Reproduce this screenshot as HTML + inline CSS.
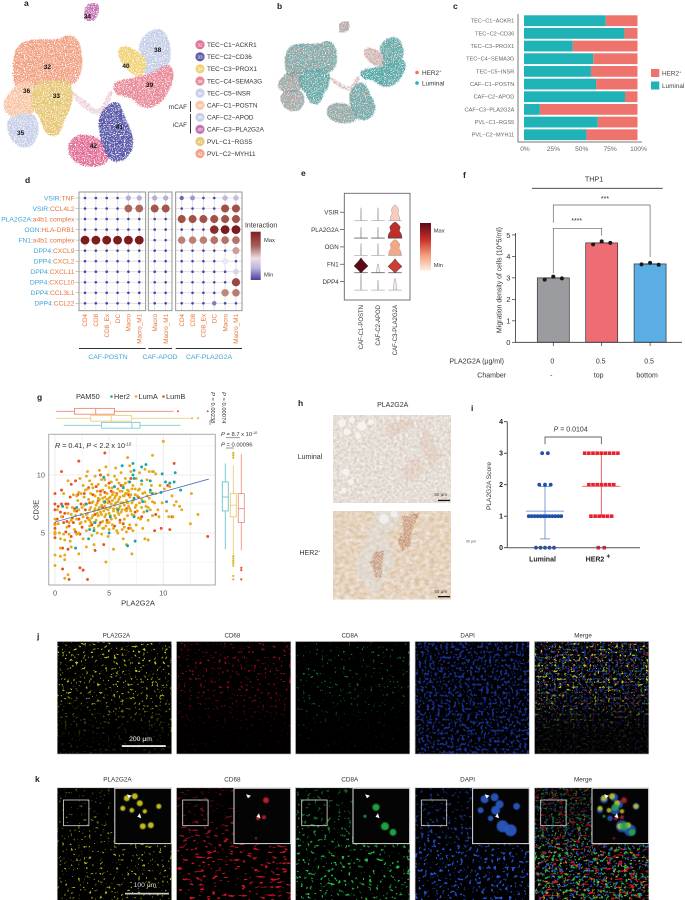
<!DOCTYPE html>
<html lang="en">
<head>
<meta charset="utf-8">
<title>PLA2G2A multi-panel figure</title>
<style>
html,body{margin:0;padding:0;background:#fff;width:685px;height:900px;overflow:hidden}
svg{display:block;font-family:"Liberation Sans",sans-serif}
.pl{font-size:8.5px;font-weight:bold;fill:#222}
</style>
</head>
<body>
<svg id="fig" xmlns="http://www.w3.org/2000/svg" width="685" height="900" viewBox="0 0 685 900">
<defs>
<filter id="speck" x="-8%" y="-8%" width="116%" height="116%" color-interpolation-filters="sRGB">
<feTurbulence type="fractalNoise" baseFrequency="0.9" numOctaves="1" seed="4" result="n"/>
<feDisplacementMap in="SourceGraphic" in2="n" scale="5" xChannelSelector="R" yChannelSelector="G" result="d"/>
<feColorMatrix in="n" type="matrix" values="0 0 0 0 0 0 0 0 0 0 0 0 0 0 0 10 0 0 0 -3.6" result="m"/>
<feComposite in="d" in2="m" operator="in"/>
</filter>
<filter id="speckB" x="-8%" y="-8%" width="116%" height="116%" color-interpolation-filters="sRGB">
<feTurbulence type="fractalNoise" baseFrequency="1.0" numOctaves="1" seed="9" result="n"/>
<feDisplacementMap in="SourceGraphic" in2="n" scale="5" xChannelSelector="R" yChannelSelector="G" result="d"/>
<feColorMatrix in="n" type="matrix" values="0 0 0 0 0 0 0 0 0 0 0 0 0 0 0 10 0 0 0 -4.9" result="m"/>
<feComposite in="d" in2="m" operator="in"/>
</filter>
<filter id="fYellow" x="0" y="0" width="100%" height="100%" color-interpolation-filters="sRGB"><feTurbulence type="fractalNoise" baseFrequency="0.37" numOctaves="2" seed="11"/><feColorMatrix type="matrix" values="0 0 0 0 .76 0 0 0 0 .74 0 0 0 0 .08 14 0 0 0 -9"/></filter>
<filter id="fRed" x="0" y="0" width="100%" height="100%" color-interpolation-filters="sRGB"><feTurbulence type="fractalNoise" baseFrequency="0.37" numOctaves="2" seed="23"/><feColorMatrix type="matrix" values="0 0 0 0 .6 0 0 0 0 .04 0 0 0 0 .1 14 0 0 0 -9.3"/></filter>
<filter id="fGreen" x="0" y="0" width="100%" height="100%" color-interpolation-filters="sRGB"><feTurbulence type="fractalNoise" baseFrequency="0.37" numOctaves="2" seed="31"/><feColorMatrix type="matrix" values="0 0 0 0 .06 0 0 0 0 .55 0 0 0 0 .18 14 0 0 0 -9.6"/></filter>
<filter id="fBlue" x="0" y="0" width="100%" height="100%" color-interpolation-filters="sRGB"><feTurbulence type="fractalNoise" baseFrequency="0.37" numOctaves="2" seed="41"/><feColorMatrix type="matrix" values="0 0 0 0 .09 0 0 0 0 .18 0 0 0 0 .55 9 0 0 0 -4.8"/></filter>
<filter id="fYellowK" x="0" y="0" width="100%" height="100%" color-interpolation-filters="sRGB"><feTurbulence type="fractalNoise" baseFrequency="0.37" numOctaves="2" seed="13"/><feColorMatrix type="matrix" values="0 0 0 0 .72 0 0 0 0 .7 0 0 0 0 .08 14 0 0 0 -9.3"/></filter>
<filter id="fRedK" x="0" y="0" width="100%" height="100%" color-interpolation-filters="sRGB"><feTurbulence type="fractalNoise" baseFrequency="0.17 0.37" numOctaves="2" seed="5"/><feColorMatrix type="matrix" values="0 0 0 0 .8 0 0 0 0 .07 0 0 0 0 .13 14 0 0 0 -8.8"/></filter>
<filter id="fGreenK" x="0" y="0" width="100%" height="100%" color-interpolation-filters="sRGB"><feTurbulence type="fractalNoise" baseFrequency="0.29" numOctaves="2" seed="15"/><feColorMatrix type="matrix" values="0 0 0 0 .1 0 0 0 0 .72 0 0 0 0 .25 14 0 0 0 -8.9"/></filter>
<filter id="fBlueK" x="0" y="0" width="100%" height="100%" color-interpolation-filters="sRGB"><feTurbulence type="fractalNoise" baseFrequency="0.33" numOctaves="2" seed="45"/><feColorMatrix type="matrix" values="0 0 0 0 .13 0 0 0 0 .32 0 0 0 0 .82 12 0 0 0 -7.2"/></filter>
<filter id="tissueA" x="0" y="0" width="100%" height="100%" color-interpolation-filters="sRGB"><feTurbulence type="fractalNoise" baseFrequency="0.35" numOctaves="3" seed="8"/><feColorMatrix type="matrix" values=".2 0 0 0 .8 .26 0 0 0 .74 .3 0 0 0 .69 0 0 0 0 1"/></filter>
<filter id="tissueB" x="0" y="0" width="100%" height="100%" color-interpolation-filters="sRGB"><feTurbulence type="fractalNoise" baseFrequency="0.2 0.28" numOctaves="3" seed="19"/><feColorMatrix type="matrix" values=".14 0 0 0 .83 .26 0 0 0 .7 .42 0 0 0 .54 0 0 0 0 1"/></filter>
<filter id="soft"><feGaussianBlur stdDeviation="0.6"/></filter>
<linearGradient id="interactionGrad" x1="0" y1="0" x2="0" y2="1"><stop offset="0" stop-color="#7d1f22"/><stop offset=".3" stop-color="#a9605a"/><stop offset=".55" stop-color="#eadfe6"/><stop offset=".75" stop-color="#bdb6df"/><stop offset="1" stop-color="#4a409b"/></linearGradient>
<linearGradient id="violinGrad" x1="0" y1="0" x2="0" y2="1"><stop offset="0" stop-color="#5c0a18"/><stop offset=".35" stop-color="#c8302a"/><stop offset=".7" stop-color="#f4a582"/><stop offset="1" stop-color="#fdeee8"/></linearGradient>
<linearGradient id="fadeDown" x1="0" y1="0" x2="0" y2="1"><stop offset=".4" stop-color="#000" stop-opacity="0"/><stop offset=".8" stop-color="#000" stop-opacity=".8"/></linearGradient>
<linearGradient id="fadeUp" x1="0" y1="0" x2="0" y2="1"><stop offset=".2" stop-color="#000" stop-opacity=".5"/><stop offset=".6" stop-color="#000" stop-opacity="0"/></linearGradient>
</defs>

<text class="pl" x="24" y="6">a</text>
<text class="pl" x="277" y="9">b</text>
<text class="pl" x="453" y="9">c</text>
<text class="pl" x="25" y="183">d</text>
<text class="pl" x="301" y="176">e</text>
<text class="pl" x="463" y="178">f</text>
<text class="pl" x="37" y="400">g</text>
<text class="pl" x="298" y="406">h</text>
<text class="pl" x="471" y="411">i</text>
<text class="pl" x="37" y="639">j</text>
<text class="pl" x="35" y="782">k</text>

<g id="panelA"></g>
<g id="panelB"></g>
<g id="panelC"></g>
<g id="panelD"></g>
<g id="panelE"></g>
<g id="panelF"></g>
<g id="panelG"></g>

<g id="panelH">
<text x="392.7" y="407" font-size="7" fill="#333" text-anchor="middle">PLA2G2A</text>
<text x="310" y="459" font-size="7" fill="#333" text-anchor="middle">Luminal</text>
<text x="310" y="555" font-size="7" fill="#333" text-anchor="middle">HER2<tspan font-size="4" dy="-2.5">+</tspan></text>
<g>
<rect x="333" y="415" width="117.7" height="87.7" filter="url(#tissueA)"/>
<g fill="#f6f2ee">
<circle cx="342" cy="423" r="4"/><circle cx="352" cy="420" r="3"/><circle cx="362" cy="426" r="4.5"/><circle cx="371" cy="422" r="3"/><circle cx="347" cy="432" r="3.5"/><circle cx="358" cy="436" r="3"/><circle cx="346" cy="472" r="3.5"/><circle cx="351" cy="482" r="3"/><circle cx="344" cy="490" r="2.6"/>
</g>
<path d="M425 425 L440 455 L432 470 L420 445Z M400 470 L418 455 L425 470 L410 482Z M385 425 L415 418 L410 428 L390 438Z" fill="#ddb9a4" opacity=".3"/>
</g>
<text x="440.7" y="496" font-size="4.5" fill="#333" text-anchor="middle">50 μm</text>
<rect x="438" y="499.8" width="12" height="1.3" fill="#111"/>
<g>
<rect x="333" y="511" width="117.7" height="88.3" filter="url(#tissueB)"/>
<path d="M375 512 L400 511 L398 525 L385 535 L395 560 L375 599 L355 570 L368 535Z" fill="#dde3e6" opacity=".4"/>
<circle cx="384" cy="519" r="5" fill="#eef0f0"/><circle cx="394" cy="514" r="3.5" fill="#eef0f0"/>
<path d="M403 516 L420 513 L413 528 L411 546 L403 551 L398 540 L404 530Z" fill="#a9542c" opacity=".75" filter="url(#speckB)"/>
<path d="M375 552 L385 550 L383 565 L382 578 L376 578 L371 562Z" fill="#a9542c" opacity=".75" filter="url(#speckB)"/>
</g>
<text x="440.7" y="593" font-size="4.5" fill="#333" text-anchor="middle">50 μm</text>
<rect x="438" y="596" width="12" height="1.3" fill="#111"/>
<text x="471" y="542.5" font-size="3.6" fill="#555" text-anchor="middle">50 μm</text>
</g>

<g id="panelI"></g>
<g id="panelJ"></g>
<g id="panelK"></g>
</svg>

<script>
/* ---------- shared helpers ---------- */
var NS='http://www.w3.org/2000/svg';
function mk(tag,attrs,parent,txt){
  var e=document.createElementNS(NS,tag);
  for(var k in attrs){e.setAttribute(k,attrs[k]);}
  if(txt!==undefined){e.textContent=txt;}
  parent.appendChild(e);
  return e;
}
function lerpColor(stops,t){
  t=Math.max(0,Math.min(1,t));
  for(var i=1;i<stops.length;i++){
    if(t<=stops[i][0]){
      var a=stops[i-1],b=stops[i],f=(t-a[0])/(b[0]-a[0]);
      var c=[0,1,2].map(function(j){return Math.round(a[1][j]+(b[1][j]-a[1][j])*f);});
      return 'rgb('+c.join(',')+')';
    }
  }
  var l=stops[stops.length-1][1];
  return 'rgb('+l.join(',')+')';
}
function smoothPath(pts,fx,fy){
  var n=pts.length,d='';
  for(var i=0;i<n;i++){
    var p=pts[i],q=pts[(i+1)%n];
    var mx=(fx(p[0])+fx(q[0]))/2,my=(fy(p[1])+fy(q[1]))/2;
    if(i===0){
      var z=pts[n-1];
      d+='M'+((fx(z[0])+fx(p[0]))/2)+' '+((fy(z[1])+fy(p[1]))/2);
    }
    d+=' Q'+fx(p[0])+' '+fy(p[1])+' '+mx+' '+my;
  }
  return d+'Z';
}

/* ---------- a / b UMAP data (outlines in UMAP units) ---------- */
var cluster34Outline=[[262,20],[280,12],[295,20],[290,45],[270,62],[255,50]];
var cluster32Outline=[[50,140],[100,122],[180,125],[200,110],[235,120],[245,205],[220,255],[160,250],[100,245],[62,285],[42,230]];
var cluster36Outline=[[12,312],[35,280],[60,250],[105,250],[108,330],[70,345],[30,345]];
var cluster33Outline=[[100,255],[160,245],[215,250],[210,320],[190,350],[175,405],[140,400],[125,345],[100,325]];
var cluster35Outline=[[25,355],[100,340],[115,395],[90,440],[50,432],[30,400]];
var cluster38Outline=[[415,135],[465,85],[500,105],[512,185],[470,215],[430,222],[440,180]];
var cluster40Outline=[[360,140],[400,150],[440,185],[420,232],[385,205],[362,175]];
var cluster39Outline=[[342,250],[400,240],[460,225],[510,190],[518,240],[480,310],[430,322],[395,285],[352,282]];
var cluster41Outline=[[300,345],[350,300],[368,350],[402,425],[375,478],[330,480],[305,415]];
var cluster42Outline=[[205,435],[240,405],[300,420],[330,478],[285,498],[225,485]];
var bridgeOutline=[[212,270],[250,295],[300,340],[330,265],[345,285],[300,350],[260,330],[225,300]];
var clusterOutlines=[cluster32Outline,cluster36Outline,cluster33Outline,cluster35Outline,cluster38Outline,cluster40Outline,cluster39Outline,cluster42Outline,cluster41Outline,cluster34Outline,bridgeOutline];
var clusterColors=['#f2a386','#f9c6a5','#e7c877','#c7d0e8','#c6cfe8','#f1d274','#e98b9a','#e2729a','#5d5cab','#c476b4','#dfa8b8'];
var clusterIds=['32','36','33','35','38','40','39','42','41','34','bridge'];
var her2Share=[.45,.6,.35,.6,.35,.95,.3,.5,.4,.7,.45];
var clusterLabels=['34','32','36','33','35','38','40','39','41','42'];
var clusterLabelX=[262,142,80,169,62,473,378,449,358,280];
var clusterLabelY=[48,200,271,286,398,149,197,254,380,437];
function ax(u){return u/3;}
function ay(v){return v/3;}
function bx(u){return 275.5+u*0.25;}
function by(v){return 19.5+v*0.207;}

var pA=document.getElementById('panelA');
clusterOutlines.forEach(function(o,i){
  var isBridge=clusterIds[i]==='bridge';
  var p=mk('path',{d:smoothPath(o,ax,ay),fill:clusterColors[i],stroke:clusterColors[i],'stroke-width':isBridge?0:4,'stroke-linejoin':'round',filter:isBridge?'url(#speckB)':'url(#speck)'},pA);
  
  
});
clusterLabels.forEach(function(l,i){
  var t=mk('text',{x:ax(clusterLabelX[i]),y:ay(clusterLabelY[i])+2.5,'font-size':6.5,'font-weight':'bold',fill:'#111','text-anchor':'middle'},pA,l);
  
  
});
var legendNames=['TEC−C1−ACKR1','TEC−C2−CD36','TEC−C3−PROX1','TEC−C4−SEMA3G','TEC−C5−INSR','CAF−C1−POSTN','CAF−C2−APOD','CAF−C3−PLA2G2A','PVL−C1−RGS5','PVL−C2−MYH11'];
var legendIds=['32','33','34','35','36','38','39','40','41','42'];
var legendColors=['#e2729a','#5d5cab','#f1d274','#e98b9a','#c7d0e8','#f9c6a5','#c6cfe8','#c476b4','#e7c877','#f2a386'];
legendNames.forEach(function(n,i){
  var y=44.7+i*12.1;
  var g=mk('g',{},pA);
  
  
  mk('circle',{cx:200,cy:y,r:4.6,fill:legendColors[i]},g);
  mk('text',{x:200,y:y+1.8,'font-size':4.8,fill:'#fff','text-anchor':'middle'},g,legendIds[i]);
  mk('text',{x:207,y:y+2.3,'font-size':6.4,fill:'#333'},g,n);
});
var mc=mk('text',{x:187,y:109,'font-size':6.4,fill:'#333','text-anchor':'end'},pA,'mCAF');


var ic=mk('text',{x:187,y:127,'font-size':6.4,fill:'#333','text-anchor':'end'},pA,'iCAF');


var mb=mk('line',{x1:190.5,x2:190.5,y1:101,y2:112,stroke:'#222','stroke-width':.9},pA);


var ib=mk('line',{x1:190.5,x2:190.5,y1:114,y2:133.5,stroke:'#222','stroke-width':.9},pA);



var pB=document.getElementById('panelB');
clusterOutlines.forEach(function(o,i){
  var sw=clusterIds[i]==='bridge'?0:3;
  var p=mk('path',{d:smoothPath(o,bx,by),fill:'#2bb6b8',stroke:'#2bb6b8','stroke-width':sw,filter:clusterIds[i]==='bridge'?'url(#speckB)':'url(#speck)',opacity:Math.min(1,1.25-her2Share[i])},pB);
  
  
  var q=mk('path',{d:smoothPath(o,bx,by),fill:'#ef7f78',stroke:'#ef7f78','stroke-width':sw,filter:'url(#speckB)',opacity:Math.min(1,her2Share[i]*1.8)},pB);
  
  
});
var bLegend=[['HER2','#ef7068',75,'+'],['Luminal','#1fb3b5',85.5,'']];
bLegend.forEach(function(e){
  var g=mk('g',{},pB);
  
  
  mk('circle',{cx:417,cy:e[2]-2.5,r:1.8,fill:e[1]},g);
  var t=mk('text',{x:422,y:e[2],'font-size':6.4,fill:'#333'},g,e[0]);
  if(e[3]){mk('tspan',{'font-size':3.8,dy:-2.4},t,e[3]);}
});

/* ---------- c stacked bars ---------- */
var cCategories=['TEC−C1−ACKR1','TEC−C2−CD36','TEC−C3−PROX1','TEC−C4−SEMA3G','TEC−C5−INSR','CAF−C1−POSTN','CAF−C2−APOD','CAF−C3−PLA2G2A','PVL−C1−RGS5','PVL−C2−MYH11'];
var cLuminalShare=[72,88.5,43,61,59,63.5,89,14,65,55];
var cTicks=[0,25,50,75,100];
function cX(v){return 524+v*1.135;}
function cY(i){return 20.7+i*12.67;}
var pC=document.getElementById('panelC');
cCategories.forEach(function(c,i){
  var y=cY(i);
  var lab=mk('text',{x:514.3,y:y+1.9,'font-size':5.6,fill:'#666','text-anchor':'end'},pC,c);
  
  
  var a=mk('rect',{x:cX(0),y:y-5.4,width:cX(cLuminalShare[i])-cX(0),height:10.8,fill:'#1fb3b8'},pC);
  
  
  var b=mk('rect',{x:cX(cLuminalShare[i]),y:y-5.4,width:cX(100)-cX(cLuminalShare[i]),height:10.8,fill:'#ee736c'},pC);
  
  
});
var cAxis=mk('path',{d:'M518 14V142H642',fill:'none',stroke:'#777','stroke-width':1},pC);


cTicks.forEach(function(t){
  var l=mk('text',{x:cX(t)+1,y:151,'font-size':6.6,fill:'#666','text-anchor':'middle'},pC,t+'%');
  
  
});
var cLegend=[['HER2','#ee736c',69,'+'],['Luminal','#1fb3b8',81.5,'']];
cLegend.forEach(function(e){
  var g=mk('g',{},pC);
  
  
  mk('rect',{x:651,y:e[2],width:8.3,height:8,fill:e[1]},g);
  var t=mk('text',{x:662,y:e[2]+6.7,'font-size':6.4,fill:'#444'},g,e[0]);
  if(e[3]){mk('tspan',{'font-size':3.8,dy:-2.4},t,e[3]);}
});

/* ---------- d interaction dot plot ---------- */
var dLigands=['VSIR:','VSIR:','PLA2G2A:','OGN:','FN1:','DPP4:','DPP4:','DPP4:','DPP4:','DPP4:','DPP4:'];
var dReceptors=['TNF','CCL4L2','a4b1 complex','HLA-DRB1','a4b1 complex','CXCL9','CXCL2','CXCL11','CXCL10','CCL3L1','CCL22'];
var dColsPostn=['CD4','CD8','CD8_Ex','DC','Macro','Macro_M1'];
var dColsApod=['Macro','Macro_M1'];
var dColsPla=['CD4','CD8','CD8_Ex','DC','Macro','Macro_M1'];
var dValuesPostn=[[0,0,0,0,.28,.28],[0,0,0,0,.8,.8],[0,0,0,0,0,0],[0,0,0,0,0,0],[1,1,1,1,1,1],[0,0,0,0,0,0],[0,0,0,0,0,0],[0,0,0,0,0,0],[0,0,0,0,0,0],[0,0,0,0,0,0],[0,0,0,0,0,0]];
var dValuesApod=[[.28,.28],[.84,.84],[0,0],[0,0],[0,0],[0,0],[0,0],[0,0],[0,0],[0,0],[0,0]];
var dValuesPla=[[.1,.22,0,0,.3,.32],[0,0,0,0,.85,.85],[.85,.85,.85,.85,.85,.85],[0,0,0,.95,1,1],[.74,.74,.74,.77,.77,.77],[0,0,0,0,0,.66],[0,0,0,0,.47,0],[0,0,0,0,0,.4],[0,0,0,0,0,.88],[0,0,0,0,.72,.75],[0,0,0,.15,0,0]];
var dColorStops=[[0,[72,64,160]],[.3,[190,182,224]],[.47,[236,230,240]],[.65,[205,165,155]],[.85,[160,82,72]],[1,[125,28,32]]];
var dFacets=[{cols:dColsPostn,vals:dValuesPostn,l:79,r:145.7,xs:85,dx:10.85,name:'caf-postn'},{cols:dColsApod,vals:dValuesApod,l:148.3,r:172,xs:154.7,dx:11,name:'caf-apod'},{cols:dColsPla,vals:dValuesPla,l:175.7,r:242,xs:181.7,dx:10.85,name:'caf-pla2g2a'}];
function dY(i){return 198+i*10.53;}
function dR(v){return v===0?1.3:1.9+v*2.5;}
var pD=document.getElementById('panelD');
dLigands.forEach(function(l,i){
  var t=mk('text',{x:74.5,y:dY(i)+2.3,'font-size':6.7,'text-anchor':'end',fill:'#3aa5d8'},pD);
  
  
  mk('tspan',{},t,l);
  mk('tspan',{fill:'#e8733a'},t,dReceptors[i]);
  var tk=mk('line',{x1:75.5,x2:79,y1:dY(i),y2:dY(i),stroke:'#999','stroke-width':.5},pD);
  
  
});
dFacets.forEach(function(f){
  var g=mk('g',{},pD);
  
  
  dLigands.forEach(function(l,i){
    mk('line',{x1:f.l,x2:f.r,y1:dY(i),y2:dY(i),stroke:'#dcdcdc','stroke-width':.8},g);
  });
  f.cols.forEach(function(c,j){
    var x=f.xs+j*f.dx;
    mk('line',{x1:x,x2:x,y1:192,y2:310.7,stroke:'#dcdcdc','stroke-width':.8},g);
    var t=mk('text',{transform:'translate('+(x+2.2)+',314) rotate(-90)','font-size':6.3,fill:'#e8733a','text-anchor':'end'},g,c);
    
    
  });
  f.vals.forEach(function(row,i){
    row.forEach(function(v,j){
      var d=mk('circle',{cx:f.xs+j*f.dx,cy:dY(i),r:dR(v),fill:v===0?'#4a45a8':lerpColor(dColorStops,v)},g);
      
      
    });
  });
  mk('rect',{x:f.l,y:192,width:f.r-f.l,height:118.7,fill:'none',stroke:'#8a8a8a','stroke-width':.9},g);
  var b=mk('line',{x1:f.l,x2:f.r,y1:348.5,y2:348.5,stroke:'#333','stroke-width':1},g);
  
  
});
var dGroupLabels=[['CAF-POSTN',108],['CAF-APOD',160],['CAF-PLA2G2A',209]];
dGroupLabels.forEach(function(e){
  var t=mk('text',{x:e[1],y:359,'font-size':6.8,fill:'#3aa5d8','text-anchor':'middle'},pD,e[0]);
  
  
});
var dt=mk('text',{x:245,y:227.5,'font-size':6.9,fill:'#333'},pD,'Interaction');


var db=mk('rect',{x:250.7,y:231.7,width:10,height:48.3,fill:'url(#interactionGrad)'},pD);


var dMax=mk('text',{x:264,y:242,'font-size':5.8,fill:'#333'},pD,'Max');


var dMin=mk('text',{x:264,y:276.5,'font-size':5.8,fill:'#333'},pD,'Min');



/* ---------- e stacked violins ---------- */
var eGenes=['VSIR','PLA2G2A','OGN','FN1','DPP4'];
var eClusters=['CAF-C1-POSTN','CAF-C2-APOD','CAF-C3-PLA2G2A'];
var eHeights=[[13,13,16],[11,11,16],[12,12,16],[15,9,14],[16,10,12]];
var eWidths=[[.4,.4,4.8],[.4,.4,7],[.4,.4,6.5],[7,1.6,7],[.4,.4,1.8]];
var eLevels=[[.02,.02,.16],[.02,.02,.72],[.02,.02,.34],[1,.02,.66],[.02,.02,.03]];
var eProfileSpike=[[0,1],[.12,.9],[.5,.65],[.85,.4],[1,0]];
var eProfileDiamond=[[0,.06],[.12,.25],[.45,1],[.8,.3],[1,0]];
var eProfileBulb=[[0,1],[.25,.9],[.45,.6],[.7,.75],[.9,.35],[1,0]];
var eStops=[[0,[253,238,232]],[.35,[244,165,130]],[.7,[200,48,42]],[1,[92,10,24]]];
function eRowY(i){return 220.7+i*17.35;}
function eColX(j){return 361+j*17;}
var pE=document.getElementById('panelE');
var eBox=mk('rect',{x:344.3,y:193.3,width:65.7,height:106.7,fill:'#fff',stroke:'#666','stroke-width':.9},pE);


eGenes.forEach(function(g,i){
  var y=eRowY(i)-8.5;
  var t=mk('text',{x:338.7,y:y+2.2,'font-size':6.2,fill:'#333','text-anchor':'end'},pE,g);
  
  
  var tk=mk('line',{x1:340,x2:344.3,y1:y,y2:y,stroke:'#444','stroke-width':.7},pE);
  
  
  eClusters.forEach(function(c,j){
    var h=eHeights[i][j],w=eWidths[i][j],lv=eLevels[i][j],base=eRowY(i),cx=eColX(j);
    var prof=(i===3&&j!==1)?eProfileDiamond:(w>2?eProfileBulb:eProfileSpike);
    var left='',right='';
    prof.forEach(function(p,k){
      var yy=base-p[0]*h;
      left+=(k===0?'M':'L')+(cx-p[1]*w)+' '+yy+' ';
      right=' L'+(cx+p[1]*w)+' '+yy+right;
    });
    var gg=mk('g',{},pE);
    
    
    mk('path',{d:left+right+'Z',fill:lerpColor(eStops,lv),stroke:lv>.5?'#333':'#999','stroke-width':.5,'stroke-linejoin':'round'},gg);
    mk('line',{x1:cx-6.8,x2:cx+6.8,y1:base,y2:base,stroke:i===1||i===3?'#444':'#aaa','stroke-width':.7},gg);
  });
});
eClusters.forEach(function(c,j){
  var t=mk('text',{transform:'translate('+(eColX(j)+2.2)+',305) rotate(-90)','font-size':6,fill:'#333','text-anchor':'end'},pE,c);
  
  
});
var eBar=mk('rect',{x:420,y:223,width:11,height:47.7,fill:'url(#violinGrad)'},pE);


var eMax=mk('text',{x:433.7,y:232.5,'font-size':5.8,fill:'#333'},pE,'Max');


var eMin=mk('text',{x:433.7,y:267,'font-size':5.8,fill:'#333'},pE,'Min');



/* ---------- f migration bars ---------- */
var fValues=[3.0,4.63,3.65];
var fReplicates=[[2.92,3.06,2.98],[4.56,4.7,4.63],[3.63,3.7,3.61]];
var fColors=['#9b9ca0','#ee6d74','#5aaee3'];
var fDoses=['0','0.5','0.5'];
var fChambers=['-','top','bottom'];
var fTicks=[0,1,2,3,4,5];
function fY(v){return 342.3-v*21.47;}
function fX(i){return 553.3+i*48.4;}
var pF=document.getElementById('panelF');
fTicks.forEach(function(t){
  var tk=mk('line',{x1:512,x2:515.5,y1:fY(t),y2:fY(t),stroke:'#333','stroke-width':.7},pF);
  
  
  var l=mk('text',{x:510.5,y:fY(t)+2.8,'font-size':7.6,fill:'#333','text-anchor':'end'},pF,t);
  
  
});
fValues.forEach(function(v,i){
  var b=mk('rect',{x:fX(i)-16,y:fY(v),width:32,height:fY(0)-fY(v),fill:fColors[i],stroke:'#333','stroke-width':.7},pF);
  
  
  var tk=mk('line',{x1:fX(i),x2:fX(i),y1:342.3,y2:346,stroke:'#333','stroke-width':.7},pF);
  
  
  var ln=mk('line',{x1:fX(i)-8.5,x2:fX(i)+8.5,y1:fY(v),y2:fY(v),stroke:'#222','stroke-width':.8},pF);
  
  
  fReplicates[i].forEach(function(r,k){
    var d=mk('circle',{cx:fX(i)+(k-1)*8.6,cy:fY(r),r:2,fill:'#1a1a1a'},pF);
    
    
  });
  var a=mk('text',{x:fX(i)-1,y:363.5,'font-size':7,fill:'#333','text-anchor':'middle'},pF,fDoses[i]);
  
  
  var c=mk('text',{x:fX(i)-3+(i===0?1:0),y:377.5,'font-size':7,fill:'#333','text-anchor':'middle'},pF,fChambers[i]);
  
  
});
var fAx=mk('path',{d:'M515.5 233V342.3H682',fill:'none',stroke:'#333','stroke-width':.8},pF);


var fT=mk('text',{transform:'translate(501.5,280) rotate(-90)','font-size':6.9,fill:'#333','text-anchor':'middle'},pF,'Migration  density of cells (10^5/ml)');


var fB1=mk('path',{d:'M'+fX(0)+' 273V228.3H'+fX(1)+'V235.7',fill:'none',stroke:'#666','stroke-width':.7},pF);


var fB2=mk('path',{d:'M'+fX(0)+' 222.7V205H'+fX(2)+'V257',fill:'none',stroke:'#666','stroke-width':.7},pF);


var fS1=mk('text',{x:576.7,y:223,'font-size':7,fill:'#333','text-anchor':'middle'},pF,'****');


var fS2=mk('text',{x:605,y:201,'font-size':7,fill:'#333','text-anchor':'middle'},pF,'***');


var fH=mk('text',{x:594,y:181.5,'font-size':7.2,fill:'#333','text-anchor':'middle'},pF,'THP1');


var fHl=mk('line',{x1:532,x2:662.7,y1:188.3,y2:188.3,stroke:'#333','stroke-width':.8},pF);


var fR1=mk('text',{x:476.7,y:363.5,'font-size':7,fill:'#333','text-anchor':'middle'},pF,'PLA2G2A (μg/ml)');


var fR2=mk('text',{x:491.7,y:377.5,'font-size':7,fill:'#333','text-anchor':'middle'},pF,'Chamber');



/* ---------- g scatter ---------- */
var gXTicks=[0,5,10];
var gYTicks=[5,10];
var gXMinor=[2.5,7.5,12.5];
var gYMinor=[2.5,7.5,12.5];
var gFitLine=[[0,5.95],[14.2,9.65]];
var gLumA=[[10,12.9],[6.7,11.5],[9,11.7],[3,10.3],[4.7,10.7],[9,10.3],[9.3,10.1],[0,3.1],[0,2.2],[.9,1.1],[1.2,1.4],[4.7,2.5],[7.1,3.2],[13.2,6.6],[12.5,5.8],[12.6,8.4],[11.2,7.7],[11.5,7.3],[11.7,7],[10.5,6.4],[2.2,3.2],[.5,3.7],[.5,3],[.9,3.1],[.9,2.7],[5.4,3.6],[8.3,4.5],[8.6,4.4],[0,6.2],[0,5.7],[0,5.1],[0,4.9],[.3,5.8],[.4,5],[.5,4.5],[.8,4.9],[.9,4.4],[1.1,5.5],[1.3,5.9],[1.3,4.9],[1.5,6.1],[1.6,7.2],[1.8,5.3],[1.9,6.5],[2,4.9],[2.1,7.8],[2.2,8.5],[2.3,5.8],[2.4,6.6],[2.5,7.2],[2.6,9.1],[2.6,4.5],[2.7,8.1],[2.8,6],[2.8,7.5],[2.9,5.2],[3,8.8],[3,6.7],[3.1,7.9],[3.2,5.6],[3.2,9.5],[3.3,7.2],[3.3,8.4],[3.4,6.3],[3.4,4.8],[3.5,7.7],[3.5,8.9],[3.6,6.9],[3.6,5.4],[3.7,8.2],[3.7,9.9],[3.8,7.4],[3.8,6.1],[3.9,8.6],[3.9,5],[4,7],[4,9.2],[4,6.5],[4.1,7.9],[4.1,5.7],[4.2,8.3],[4.2,6.8],[4.3,9.6],[4.3,7.4],[4.4,6],[4.4,8.7],[4.5,5.4],[4.5,7.7],[4.6,8.1],[4.6,6.4],[4.7,9.1],[4.7,7.1],[4.8,5.9],[4.8,8.4],[4.9,10],[4.9,7.6],[5,6.7],[5,8.9],[5,5.3],[5.1,7.2],[5.1,8.1],[5.2,6.2],[5.2,9.4],[5.3,7.8],[5.3,5.7],[5.4,8.5],[5.4,6.9],[5.5,7.4],[5.5,9.9],[5.6,6.3],[5.6,8.2],[5.7,5.2],[5.7,7.1],[5.8,8.8],[5.8,7.7],[5.9,6.6],[5.9,9.3],[6,5.9],[6,8.1],[6,7.3],[6.1,10.2],[6.1,6.8],[6.2,8.6],[6.2,5.3],[6.3,7.6],[6.3,9.1],[6.4,6.2],[6.4,8.2],[6.5,7],[6.5,9.7],[6.6,5.1],[6.6,7.8],[6.7,8.7],[6.7,6.5],[6.8,7.3],[6.8,9.4],[6.9,5.7],[6.9,8.1],[7,6.9],[7,10.3],[7.1,7.6],[7.1,8.8],[7.2,5.2],[7.2,9.1],[7.3,6.5],[7.4,8.3],[7.4,7.2],[7.5,9.7],[7.5,5.7],[7.6,6.9],[7.7,8.7],[7.8,7.6],[7.8,10.2],[7.9,6.2],[8,9.2],[8,7.9],[8.1,5.4],[8.2,6.8],[8.3,8.5],[8.3,10.5],[8.4,7.3],[8.5,9.6],[8.6,6.1],[8.7,8],[8.8,7],[8.9,9.1],[9,6.5],[9.1,10.3],[9.2,7.6],[9.3,8.4],[9.5,7],[9.6,6.4],[9.7,9.1],[9.9,7.6],[10.1,8.8],[10.3,6.9],[10.6,9],[10.8,8.2],[10.9,6.4],[11,7.4],[1.2,6.7],[1.7,8.3],[.8,8.4],[.6,6.4],[1.1,7.2],[.2,7],[2.2,5],[2.9,3.8],[3.6,4],[4.3,4.9],[4.9,4.7],[5.8,5],[6.3,4.5],[6.6,4],[1.5,3.8],[1.4,4.3],[3.2,6.1],[3.9,7.6],[4.6,7.3],[5.3,8.9],[5.9,7.1],[6.6,8.4],[7.3,7.9],[2.3,9.7],[2.9,9.9],[1.2,9.5],[8.7,10.3],[4.1,10.4],[5.6,10.6],[6.9,10.8],[1.5,6.6],[1.8,6.9],[2,6.2],[2.2,7],[2.4,5.9],[2.6,6.4],[2.7,7.4],[2.9,6.6],[3.1,6.2],[3.2,7],[3.4,7.6],[3.5,6.5],[3.7,7.1],[3.9,6.7],[4,8],[4.1,7.2],[4.3,6.6],[4.4,8],[4.5,6.9],[4.6,7.6],[4.7,6.6],[4.8,7.9],[4.9,7],[5,8],[5.1,6.5],[5.2,7.5],[5.3,8.3],[5.4,7.1],[5.5,6.5],[5.5,8],[5.6,7.6],[5.7,8.3],[5.8,6.8],[5.9,7.9],[6,8.6],[6.1,7.6],[6.2,7],[6.3,8.2],[6.4,7.4],[6.5,8.4],[6.6,6.9],[6.7,7.6],[6.8,8.6],[6.9,7.1],[7,8.3],[7.1,6.6],[7.2,7.8],[7.4,8.8],[7.5,7.4],[7.6,8.2],[7.8,8.8],[8,7.2],[8.1,8.4],[8.3,7.7],[8.5,8.2],[8.6,7.2],[8.8,8.5],[9,7.7],[3.3,5.9],[3.6,5.9],[4,5.6],[4.4,5.4],[4.7,5.6],[5,5.9],[5.4,5.4],[6.4,5.5],[7,5.4],[7.7,6.3],[2,8.2],[2.4,8.4],[2.8,8.7],[3.4,9.2],[4.6,9.6],[5.7,9.6],[6.5,9.3]];
var gLumB=[[4.6,11.9],[2.2,11.2],[11,11],[.6,10.3],[0,8.4],[.6,8.7],[0,7.5],[0,7],[.6,7.5],[1,7.5],[1.5,9.2],[1.9,9.5],[14.1,4.7],[9.8,5.4],[10.6,5.3],[9.2,5.2],[7.7,8.1],[6.8,8.3],[4.2,8.6],[4.2,10],[5,9.3],[.7,1.9],[2.3,2],[2.6,1.8],[3,1],[1.3,1],[4.5,4],[3.7,3.5],[1.2,3.6],[.7,3.7],[10.8,6.4],[0,5.8],[0,5.4],[0,5],[0,4.6],[.2,6.2],[.3,7.3],[.5,6.8],[.7,6.4],[.8,5.9],[.9,6.7],[1,5.1],[1.1,6],[1.2,7.5],[1.3,5.6],[1.4,8.1],[1.5,4.7],[1.6,6.3],[1.7,5.9],[1.8,7.1],[1.9,5.1],[2,6.9],[2.1,8.3],[2.2,6.2],[2.3,4.9],[2.4,7.5],[2.5,5.5],[2.7,8.4],[2.8,7],[3,6.3],[3.1,8.9],[3.2,7.6],[3.4,5.7],[3.5,8.3],[3.7,6.6],[3.8,9],[4,7.8],[4.2,5.9],[4.4,7.2],[4.6,8.5],[4.8,6.1],[5,7.7],[5.2,8.6],[5.5,5.6],[5.7,8.4],[6,6.1],[6.1,9.1],[6.3,5.8],[6.6,7.1],[6.8,5.4],[7,9.7],[7.4,6.8],[8,6.4],[9.3,6.6],[10.4,9.1]];
var gHer2=[[7.2,11],[6.2,10.8],[8.4,10.9],[8,10.7],[7.3,10.4],[7.2,10],[9.9,10.1],[11.1,10.2],[7.3,9.7],[8,9.5],[8.8,9.5],[10.2,9.4],[10.6,9.3],[11,9.4],[11.6,8.7],[9.8,8.5],[10.3,7.7],[5.5,9],[7.3,8],[4.6,7.7],[3.2,5.3],[3.1,4.5],[1.9,3.7],[6.7,3.9],[7.4,4.3],[5,5],[7.3,6.4],[2,7.2],[.7,7.3],[3.7,5.9],[5.8,7],[3.6,5.2],[8.1,7.7],[4.5,9.8],[5.1,6.4],[6.3,8.9],[2.9,7.5],[8.8,8.7],[9,8.4],[6.9,9.4],[8.5,6.9]];
var gBoxTop=[{name:'LumB',q1:1.8,med:3.76,q3:5.5,lo:.1,hi:10.95,out:[11.35,14.1],c:'#ec8a76',d:'#ea4f25',y:411.3},{name:'LumA',q1:3.3,med:5.2,q3:7.05,lo:.1,hi:12.5,out:[12.65,13.2],c:'#eecf7e',d:'#e5ae1f',y:418.3},{name:'Her2',q1:4.3,med:7.1,q3:7.85,lo:.8,hi:11.6,out:[],c:'#7fcdd2',d:'#14a5ad',y:425.3}];
var gBoxRight=[{name:'Her2',q1:6.9,med:8.1,q3:9.4,lo:3.6,hi:11,out:[],c:'#6bc6cb',d:'#14a5ad',x:225.3},{name:'LumA',q1:6.4,med:7.4,q3:8.4,lo:3.1,hi:10.8,out:[11.9,11.7,11.5,3,2.8,2.6,2.4,2.2,1.3,1],c:'#eccb74',d:'#e5ae1f',x:233.3},{name:'LumB',q1:5.9,med:7.1,q3:8.4,lo:3.5,hi:11.8,out:[2,1.8,1],c:'#ee9480',d:'#ea4f25',x:241.3}];
function gX(v){return 55+v*10.83;}
function gY(v){return 533-(v-5)*11.6;}
var pG=document.getElementById('panelG');
gXTicks.concat(gXMinor).forEach(function(v,i){
  var l=mk('line',{x1:gX(v),x2:gX(v),y1:434.3,y2:585,stroke:'#ececec','stroke-width':i<3?.9:.6},pG);
  
  
});
gYTicks.concat(gYMinor).forEach(function(v,i){
  var l=mk('line',{x1:48.7,x2:215.3,y1:gY(v),y2:gY(v),stroke:'#ececec','stroke-width':i<2?.9:.6},pG);
  
  
});
function gPoints(arr,color,name){
  arr.forEach(function(p){
    var d=mk('circle',{cx:gX(p[0]),cy:gY(p[1]),r:1.45,fill:color},pG);
    
    
  });
}
gPoints(gLumB,'#ea4f25','scatter-point-lumb');
gPoints(gLumA,'#e3ab1c','scatter-point-luma');
gPoints(gHer2,'#14a5ad','scatter-point-her2');
var gFit=mk('line',{x1:gX(gFitLine[0][0]),y1:gY(gFitLine[0][1]),x2:gX(gFitLine[1][0]),y2:gY(gFitLine[1][1]),stroke:'#4a6fc0','stroke-width':.8},pG);


var gFrame=mk('rect',{x:48.7,y:434.3,width:166.6,height:150.7,fill:'none',stroke:'#aaa','stroke-width':1},pG);


gXTicks.forEach(function(v){
  var l=mk('text',{x:gX(v),y:595.5,'font-size':7.4,fill:'#555','text-anchor':'middle'},pG,v);
  
  
});
gYTicks.forEach(function(v){
  var l=mk('text',{x:45,y:gY(v)+2.6,'font-size':7.4,fill:'#555','text-anchor':'end'},pG,v);
  
  
});
var gXT=mk('text',{x:138,y:605.5,'font-size':7.6,fill:'#333','text-anchor':'middle'},pG,'PLA2G2A');


var gYT=mk('text',{transform:'translate(38.5,510) rotate(-90)','font-size':7.6,fill:'#333','text-anchor':'middle'},pG,'CD3E');


var gAnn=mk('text',{x:55,y:448,'font-size':7.2,fill:'#333'},pG);


mk('tspan',{'font-style':'italic'},gAnn,'R');
mk('tspan',{},gAnn,' = 0.41, ');
mk('tspan',{'font-style':'italic'},gAnn,'P');
mk('tspan',{},gAnn,' < 2.2 x 10');
mk('tspan',{'font-size':4.4,dy:-2.6},gAnn,'-10');
var gPam=mk('text',{x:76,y:399,'font-size':7.4,fill:'#333'},pG,'PAM50');


var gLegendNames=['Her2','LumA','LumB'];
var gLegendColors=['#14a5ad','#e5ae1f','#ea4f25'];
var gLegendX=[111.5,136,163.5];
gLegendNames.forEach(function(n,i){
  var g=mk('g',{},pG);
  
  
  mk('circle',{cx:gLegendX[i],cy:396.5,r:1.3,fill:gLegendColors[i]},g);
  mk('text',{x:gLegendX[i]+2.5,y:399,'font-size':7.4,fill:'#333'},g,n);
});
gBoxTop.forEach(function(b){
  var g=mk('g',{},pG);
  
  
  mk('line',{x1:gX(b.lo),x2:gX(b.hi),y1:b.y,y2:b.y,stroke:b.c,'stroke-width':.9},g);
  mk('rect',{x:gX(b.q1),y:b.y-2.9,width:gX(b.q3)-gX(b.q1),height:5.8,fill:'#fff',stroke:b.c,'stroke-width':.9},g);
  mk('line',{x1:gX(b.med),x2:gX(b.med),y1:b.y-2.9,y2:b.y+2.9,stroke:b.c,'stroke-width':.9},g);
  b.out.forEach(function(o){mk('circle',{cx:gX(o),cy:b.y,r:1,fill:b.d},g);});
});
gBoxRight.forEach(function(b){
  var g=mk('g',{},pG);
  
  
  mk('line',{x1:b.x,x2:b.x,y1:gY(b.lo),y2:gY(b.hi),stroke:b.c,'stroke-width':.9},g);
  mk('rect',{x:b.x-3,y:gY(b.q3),width:6,height:gY(b.q1)-gY(b.q3),fill:'#fff',stroke:b.c,'stroke-width':.9},g);
  mk('line',{x1:b.x-3,x2:b.x+3,y1:gY(b.med),y2:gY(b.med),stroke:b.c,'stroke-width':.9},g);
  b.out.forEach(function(o){mk('circle',{cx:b.x,cy:gY(o),r:1.1,fill:b.d},g);});
});
function gPLabel(tr,parts,name,sup){
  var t=mk('text',{transform:tr,'font-size':5.8,fill:'#333'},pG);
  
  
  mk('tspan',{'font-style':'italic'},t,'P');
  mk('tspan',{},t,parts);
  if(sup){mk('tspan',{'font-size':3.6,dy:-2.2},t,sup);}
}
gPLabel('translate(211,392) rotate(90)',' = 0.00238','top-pvalue-1');
gPLabel('translate(222,392) rotate(90)',' = 0.00074','top-pvalue-2');
gPLabel('translate(221,436)',' = 8.7 x 10','right-pvalue-1','-10');
gPLabel('translate(221,446.5)',' = 0.00096','right-pvalue-2');
var gU1=mk('path',{d:'M210 420V425M210.5 420H212',fill:'none',stroke:'#333','stroke-width':.5},pG);


var gU2=mk('path',{d:'M226 437.8H240M226 448H234',fill:'none',stroke:'#333','stroke-width':.5},pG);



/* ---------- i score dot plot ---------- */
var iGroups=['Luminal','HER2'];
var iScoreLevels=[0,1,2,3];
var iLuminalCounts=[5,12,3,2];
var iHer2Counts=[2,6,7,9];
var iLuminalSummary=[.28,1.16,1.94];
var iHer2Summary=[1,1.95,3];
var iTicks=[0,1,2,3,4];
function iY(v){return 547.7-v*31.5;}
function iX(i){return i===0?545:601.3;}
var pI=document.getElementById('panelI');
iTicks.forEach(function(t){
  var tk=mk('line',{x1:504,x2:507.3,y1:iY(t),y2:iY(t),stroke:'#222','stroke-width':.8},pI);
  
  
  var l=mk('text',{x:503,y:iY(t)+2.5,'font-size':7,'font-weight':'bold',fill:'#222','text-anchor':'end'},pI,t);
  
  
});
function iSummary(s,i,color){
  var g=mk('g',{},pI);
  
  
  mk('line',{x1:iX(i),x2:iX(i),y1:iY(s[0]),y2:iY(s[2]),stroke:color,'stroke-width':.8},g);
  mk('line',{x1:iX(i)-19,x2:iX(i)+19,y1:iY(s[1]),y2:iY(s[1]),stroke:color,'stroke-width':.8},g);
  mk('line',{x1:iX(i)-5,x2:iX(i)+5,y1:iY(s[0]),y2:iY(s[0]),stroke:color,'stroke-width':.8},g);
  mk('line',{x1:iX(i)-5,x2:iX(i)+5,y1:iY(s[2]),y2:iY(s[2]),stroke:color,'stroke-width':.8},g);
}
iSummary(iLuminalSummary,0,'#5f86cc');
iSummary(iHer2Summary,1,'#e8343c');
iScoreLevels.forEach(function(s,k){
  for(var n=0;n<iLuminalCounts[k];n++){
    var spL=k===1?2.95:(k===0?4.5:5.7);
    var d=mk('circle',{cx:iX(0)+(n-(iLuminalCounts[k]-1)/2)*spL,cy:iY(s),r:1.9,fill:'#1f4fa8'},pI);
    
    
  }
  for(var m=0;m<iHer2Counts[k];m++){
    var spH=k===0?6:4.15;
    var q=mk('rect',{x:iX(1)+(m-(iHer2Counts[k]-1)/2)*spH-1.8,y:iY(s)-1.8,width:3.6,height:3.6,fill:'#e8222c'},pI);
    
    
  }
});
var iAx=mk('path',{d:'M507.3 421.7V547.7H640',fill:'none',stroke:'#555','stroke-width':1},pI);


var iL1=mk('text',{x:542.5,y:561.5,'font-size':7,'font-weight':'bold',fill:'#222','text-anchor':'middle'},pI,'Luminal');


var iL2=mk('text',{x:598,y:561.5,'font-size':7,'font-weight':'bold',fill:'#222','text-anchor':'middle'},pI,'HER2 ');


mk('tspan',{dy:-3},iL2,'+');
var iTitle=mk('text',{transform:'translate(491,486) rotate(-90)','font-size':6.6,fill:'#333','text-anchor':'middle'},pI,'PLA2G2A Score');


var iP=mk('text',{x:570.7,y:431.5,'font-size':7,fill:'#333','text-anchor':'middle'},pI);


mk('tspan',{'font-style':'italic'},iP,'P');
mk('tspan',{},iP,'  = 0.0104');
var iB=mk('path',{d:'M545 444.3V437H601.3V444.3',fill:'none',stroke:'#333','stroke-width':.7},pI);



/* ---------- j / k immunofluorescence panels ---------- */
var channelNames=['PLA2G2A','CD68','CD8A','DAPI','Merge'];
var channelLeft=[57.8,177,296,415.6,535];
var channelLabelX=[116.4,232.4,349.8,467.6,583];
var channelWidth=113.3;
var filtersJ=[['fYellow'],['fRed'],['fGreen'],['fBlue'],['fBlue','fRed','fYellow','fGreen']];
var filtersK=[['fYellowK'],['fRedK'],['fGreenK'],['fBlueK'],['fBlueK','fRedK','fYellowK','fGreenK']];
var insetCellsYellow=[[12,10,3],[20,8,3],[25,15,3],[8,20,2.6],[17,22,2.4],[30,23,2.2],[28,38,3],[36,37,3],[44,18,2.6]];
var insetCellsRed=[[32,12,3],[24,30,2],[30,29,2],[22,50,1.2]];
var insetCellsGreen=[[23,19,3.6],[12,28,1.5],[32,38,4],[40,44,3.4]];
var insetCellsBlue=[[12,11,4],[22,9,4],[27,16,4],[23,22,4.5],[44,18,3.4],[18,30,2.8],[30,38,6],[38,42,6],[8,22,3]];
var insetColors=['#d4cf22','#c9212d','#23b045','#2a5cc8'];
var insetSets=[insetCellsYellow,insetCellsRed,insetCellsGreen,insetCellsBlue];
function ifImage(parent,x,y,w,h,flts,fade,name){
  var g=mk('g',{},parent);
  
  
  mk('rect',{x:x-.5,y:y-.5,width:w+1,height:h+1,fill:'#000',stroke:'#bbb','stroke-width':.6},g);
  flts.forEach(function(f){
    mk('rect',{x:x,y:y,width:w,height:h,filter:'url(#'+f+')'},g);
  });
  if(fade){mk('rect',{x:x,y:y,width:w,height:h,fill:'url(#'+fade+')'},g);}
  return g;
}
var pJ=document.getElementById('panelJ');
channelNames.forEach(function(n,i){
  var t=mk('text',{x:channelLabelX[i],y:637.5,'font-size':6.2,fill:'#333','text-anchor':'middle'},pJ,n);
  
  
  ifImage(pJ,channelLeft[i],642,channelWidth,111.5,filtersJ[i],i===3?null:'fadeDown','if-image-j-'+n.toLowerCase());
});
var jS=mk('text',{x:140.5,y:741,'font-size':6.8,fill:'#fff','text-anchor':'middle'},pJ,'200 μm');


var jB=mk('rect',{x:121.8,y:745.2,width:44,height:1.7,fill:'#fff'},pJ);



var pK=document.getElementById('panelK');
channelNames.forEach(function(n,i){
  var x=channelLeft[i];
  var t=mk('text',{x:channelLabelX[i]+(i===0?1:0),y:781.5,'font-size':6.4,fill:'#333','text-anchor':'middle'},pK,n);
  
  
  var g=ifImage(pK,x,788.3,channelWidth,111.7,filtersK[i],'fadeUp','if-image-k-'+n.toLowerCase());
  var box=mk('rect',{x:x+5.7,y:800,width:25.4,height:25.7,fill:'none',stroke:'#ddd','stroke-width':.8},g);
  
  
  var ins=mk('g',{},g);
  
  
  var ix=x+57,iy=788.3;
  mk('rect',{x:ix,y:iy,width:56.6,height:55.3,fill:'#040404',stroke:'#ddd','stroke-width':1},ins);
  var layers=i===4?[3,1,0,2]:[i];
  layers.forEach(function(ch){
    insetSets[ch].forEach(function(c){
      var cell=mk('circle',{cx:ix+c[0],cy:iy+c[1],r:c[2],fill:insetColors[ch],opacity:i===4?.8:.9,filter:'url(#soft)'},ins);
      
      
    });
  });
  var a1=mk('path',{d:'M'+(ix+12)+' '+(iy+6)+'l5 1.5l-3 2.5z',fill:'#fff'},ins);
  
  
  var a2=mk('path',{d:'M'+(ix+25)+' '+(iy+25)+'l1.5 5l-4 -1.5z',fill:'#fff'},ins);
  
  
});
var kS=mk('text',{x:145,y:887,'font-size':6.8,fill:'#ddd','text-anchor':'middle'},pK,'100 μm');


var kB=mk('rect',{x:125,y:892.8,width:44,height:1.7,fill:'#ccc'},pK);


</script>
</body>
</html>
